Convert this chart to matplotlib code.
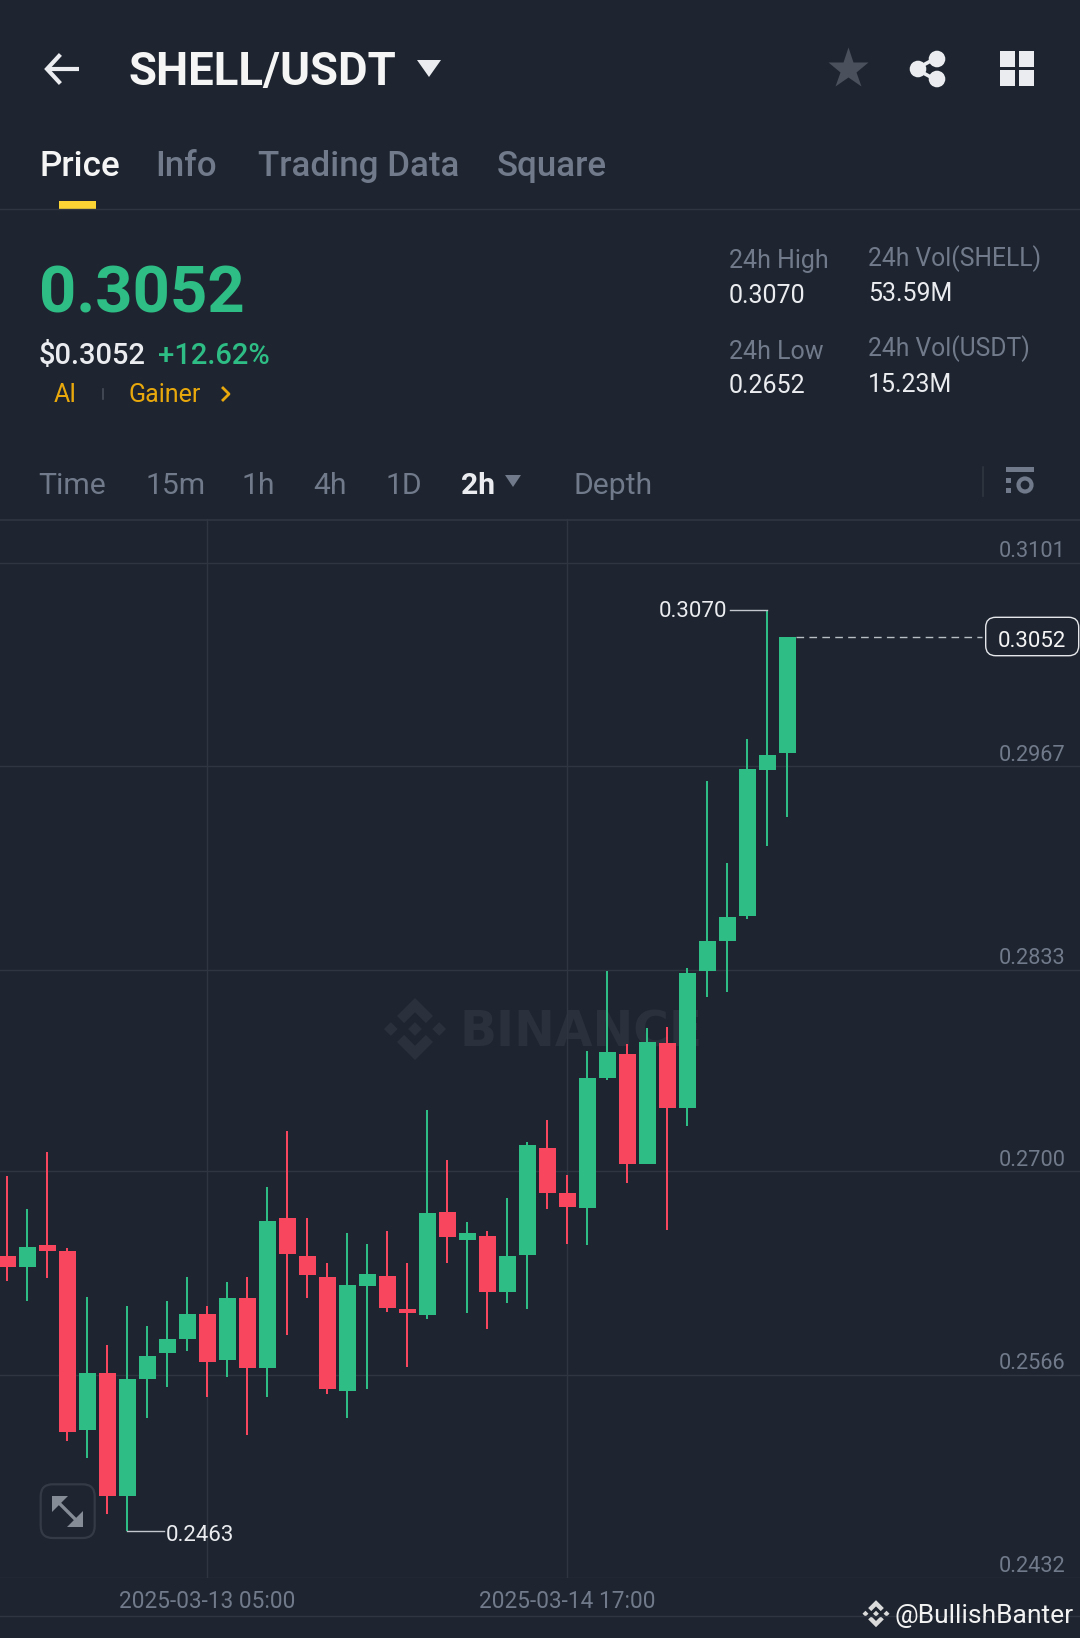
import matplotlib
matplotlib.use("Agg")
import matplotlib.pyplot as plt
from matplotlib.patches import Polygon, Rectangle, FancyBboxPatch, Circle
from matplotlib.transforms import ScaledTranslation

# ---- data -------------------------------------------------------------
opens = [.26444,.26367,.26514,.26475,.25293,.25673,.24863,.25634,.25804,.25894,
         .26062,.25754,.26163,.25704,.26693,.26444,.26304,.25555,.26245,.26313,
         .26093,.26053,.26735,.26546,.26574,.26205,.26447,.27154,.26855,.26757,
         .27618,.27776,.27047,.27846,.27418,.28321,.28521,.28683,.29643,.29755]
closes = [.26367,.26503,.26475,.25281,.25673,.24863,.25632,.25781,.25892,.26062,
          .25743,.26163,.25704,.26674,.26455,.26315,.25564,.26252,.26324,.26097,
          .26064,.26724,.26565,.26594,.26205,.26442,.27174,.26855,.26765,.27618,
          .27787,.27047,.27855,.27418,.28308,.28519,.28679,.29652,.29742,.3052]
highs = [.26968,.26754,.27127,.26496,.26175,.25854,.26116,.25982,.26143,.26304,
         .26114,.26272,.26304,.26896,.27267,.26695,.26394,.26593,.26523,.26607,
         .26394,.27407,.27075,.26664,.26607,.26825,.27196,.27339,.26974,.27796,
         .28319,.27837,.27945,.27949,.28338,.29573,.2903,.29852,.3070,.3052]
lows = [.26276,.26145,.26295,.2522,.25112,.24741,.2463,.25372,.25582,.25813,
        .25512,.25643,.25263,.25512,.25924,.26163,.2553,.25372,.25564,.26073,
        .25713,.26025,.26394,.26064,.25963,.26135,.26095,.26754,.26524,.26515,
        .276,.26926,.27047,.26616,.27297,.28152,.2818,.28661,.29143,.29334]
price_ticks = [0.3101, 0.2967, 0.2833, 0.2700, 0.2566, 0.2432]
price_labels = ["0.3101", "0.2967", "0.2833", "0.2700", "0.2566", "0.2432"]
time_tick_idx = [10, 28]
time_labels = ["2025-03-13 05:00", "2025-03-14 17:00"]
last_price = 0.3052
high_price = 0.3070
high_idx = 38
low_price = 0.2463
low_idx = 6

# ---- style ------------------------------------------------------------
BG = "#1E2530"
UP = "#2EBD85"
DOWN = "#F9465F"
GRID = "#2F3641"
GRAY = "#707A8A"
WHITE = "#EAECEF"
GOLD = "#E9A90C"
plt.rcParams["font.family"] = ["Roboto", "DejaVu Sans"]

W, H = 1080, 1638
fig = plt.figure(figsize=(W / 100, H / 100), dpi=100, facecolor=BG)
ui = fig.add_axes([0, 0, 1, 1], zorder=0)
ui.set_xlim(0, W)
ui.set_ylim(H, 0)
ui.axis("off")


def T(x, y, s, size, color=WHITE, weight="normal", ha="left", family=None):
    ui.text(x, y, s, fontsize=size, color=color, fontweight=weight, ha=ha, va="baseline", family=family)


def logo(cx, cy, r, color):
    parts = [
        [(0, .22), (.22, 0), (0, -.22), (-.22, 0)],
        [(-.78, .22), (-.56, 0), (-.78, -.22), (-1, 0)],
        [(.78, .22), (1, 0), (.78, -.22), (.56, 0)],
        [(0, 1), (.58, .42), (.35, .19), (0, .54), (-.35, .19), (-.58, .42)],
        [(0, -1), (.58, -.42), (.35, -.19), (0, -.54), (-.35, -.19), (-.58, -.42)],
    ]
    for p in parts:
        ui.add_patch(Polygon([(cx + a * r, cy - b * r) for a, b in p], closed=True, fc=color, ec="none"))


# header
ui.plot([47, 79], [69, 69], color=WHITE, lw=3, solid_capstyle="butt")
ui.plot([59, 47, 59], [56, 69, 82], color=WHITE, lw=3, solid_joinstyle="miter")
T(129, 84.5, "SHELL/USDT", 32.8, "#F5F5F5", "bold")
ui.add_patch(Polygon([(417, 60), (441, 60), (429, 77)], fc=WHITE, ec="none"))
ui.plot([848], [69], marker="*", ms=31, color="#4A515C", mec="none")
ui.plot([938, 916, 938], [57, 69, 81], color=WHITE, lw=2.6)
for c in [(937, 59), (918, 69), (937, 79)]:
    ui.add_patch(Circle(c, 8.3, fc=WHITE, ec="none"))
for gx in (1000, 1019):
    for gy in (51, 70):
        ui.add_patch(Rectangle((gx, gy), 15, 15.5, fc=WHITE, ec="none"))

# tabs
T(39, 175.8, "Price", 25.2, "#F5F5F5", "medium")
T(155, 175.8, "Info", 25.2, GRAY, "medium")
T(258, 175.8, "Trading Data", 25.2, GRAY, "medium")
T(497, 175.8, "Square", 25.2, GRAY, "medium")
ui.add_patch(Rectangle((59, 201), 37, 7.5, fc="#FCD535", ec="none"))
ui.plot([0, W], [209, 209], color=GRID, lw=1)

# ticker block
T(39, 312.7, "0.3052", 47, UP, "bold")
T(39, 364.4, "$0.3052", 21, WHITE, "medium")
T(158, 364.4, "+12.62%", 21, UP, "medium")
T(53.5, 402, "AI", 18, GOLD)
ui.plot([103, 103], [389, 399], color="#474E59", lw=1.2)
T(128, 402, "Gainer", 18, GOLD)
ui.plot([223, 229, 223], [388, 394, 400], color=GOLD, lw=2)

T(729, 268, "24h High", 18, GRAY)
T(729, 302.6, "0.3070", 18, WHITE)
T(868.5, 266.4, "24h Vol(SHELL)", 17.7, GRAY)
T(868, 301.2, "53.59M", 18, WHITE)
T(729, 358.7, "24h Low", 18, GRAY)
T(729, 393, "0.2652", 18, WHITE)
T(868.5, 355.6, "24h Vol(USDT)", 17.7, GRAY)
T(868, 391.5, "15.23M", 18, WHITE)

# interval bar
for x, s in [(38, "Time"), (145, "15m"), (242, "1h"), (313, "4h"), (386, "1D"), (573, "Depth")]:
    T(x, 493.6, s, 21.7, GRAY)
T(461, 493.6, "2h", 21.7, WHITE, "bold")
ui.add_patch(Polygon([(505, 475), (521, 475), (513, 487)], fc=GRAY, ec="none"))
ui.plot([983, 983], [467, 496], color="#2F3640", lw=1.2)
ui.add_patch(Rectangle((1006, 467), 28, 5, fc=GRAY, ec="none"))
ui.add_patch(Rectangle((1006, 478), 5, 4.5, fc=GRAY, ec="none"))
ui.add_patch(Rectangle((1006, 488), 5, 4.5, fc=GRAY, ec="none"))
ui.add_patch(Circle((1025, 485), 6.5, fc="none", ec=GRAY, lw=3))
ui.plot([0, W], [520, 520], color=GRID, lw=1.2)

# watermark
logo(415, 1029, 31, "#2A303C")
T(459, 1046.7, "BINANCE", 35, "#2A303C", "bold", family="DejaVu Sans")

# expand button
ui.add_patch(FancyBboxPatch((50.7, 1494.3), 34, 33.7, boxstyle="round,pad=10,rounding_size=12",
                            fc="none", ec="#343B46", lw=1.6))
ui.add_patch(Polygon([(52, 1496), (68, 1496), (52, 1512)], fc="#868C96", ec="none"))
ui.add_patch(Polygon([(83, 1527), (67, 1527), (83, 1511)], fc="#868C96", ec="none"))
ui.plot([58, 67], [1502, 1511], color="#868C96", lw=2.4)
ui.plot([69, 78], [1513, 1522], color="#868C96", lw=2.4)

# footer
ui.plot([0, W], [1616, 1616], color=GRID, lw=1)
logo(876, 1613.7, 13.5, "#DADADA")
T(894, 1623, "@BullishBanter", 19, "#F2F2F2")

# ---- chart ------------------------------------------------------------
ax = fig.add_axes([0, (H - 1578) / H, 1, (1578 - 519) / H], zorder=1)
ax.patch.set_visible(False)
for s in ax.spines.values():
    s.set_visible(False)
ax.set_xlim(-7.3 / 20, (W - 7.3) / 20)
ax.set_ylim(0.2432, 0.2432 + (1578 - 519) / 15172)

idx = list(range(len(opens)))
colors = [UP if c >= o else DOWN for o, c in zip(opens, closes)]
ax.vlines(idx, lows, highs, colors=colors, lw=1.44, zorder=3)
ax.bar(idx, [abs(c - o) for o, c in zip(opens, closes)], bottom=[min(o, c) for o, c in zip(opens, closes)],
       width=0.866, color=colors, linewidth=0, zorder=4)

ax.set_axisbelow(True)
ax.grid(True, color=GRID, lw=1)
ax.set_xticks(time_tick_idx)
ax.set_xticklabels(time_labels)
ax.tick_params(axis="x", length=0, pad=9, labelsize=16.3, labelcolor=GRAY)
ax.yaxis.tick_right()
ax.set_yticks(price_ticks)
ax.set_yticklabels(price_labels)
ax.tick_params(axis="y", length=0, pad=-10.5, labelsize=15.7, labelcolor=GRAY, direction="in")
shift = ScaledTranslation(0, 5.5 / 100, fig.dpi_scale_trans)
for lab in ax.get_yticklabels():
    lab.set_ha("right")
    lab.set_va("baseline")
    lab.set_transform(lab.get_transform() + shift)

# high / low / last markers
LINE = "#C4C8CE"
ax.plot([high_idx, high_idx - 1.85], [high_price, high_price], color=LINE, lw=1, zorder=5)
ax.plot([low_idx, low_idx + 1.85], [low_price, low_price], color=LINE, lw=1, zorder=5)
ax.plot([39.45, 48.75], [last_price, last_price], color="#B9BDC4", lw=1, dashes=(5.5, 3.8), zorder=5)
ov = fig.add_axes([0, 0, 1, 1], zorder=2)
ov.set_xlim(0, W)
ov.set_ylim(H, 0)
ov.axis("off")
ov.text(727.5, 617.3, "0.3070", fontsize=16, color=WHITE, ha="right", va="baseline")
ov.text(165.5, 1541, "0.2463", fontsize=16, color=WHITE, ha="left", va="baseline")
ov.add_patch(FancyBboxPatch((993.7, 625.3), 77, 22.4, boxstyle="round,pad=8,rounding_size=10",
                            fc=BG, ec="#E4E6EA", lw=1))
ov.text(1031.5, 647.3, "0.3052", fontsize=16, color="#F5F5F5", ha="center", va="baseline")

fig.savefig("out.png", dpi=100, facecolor=BG)
